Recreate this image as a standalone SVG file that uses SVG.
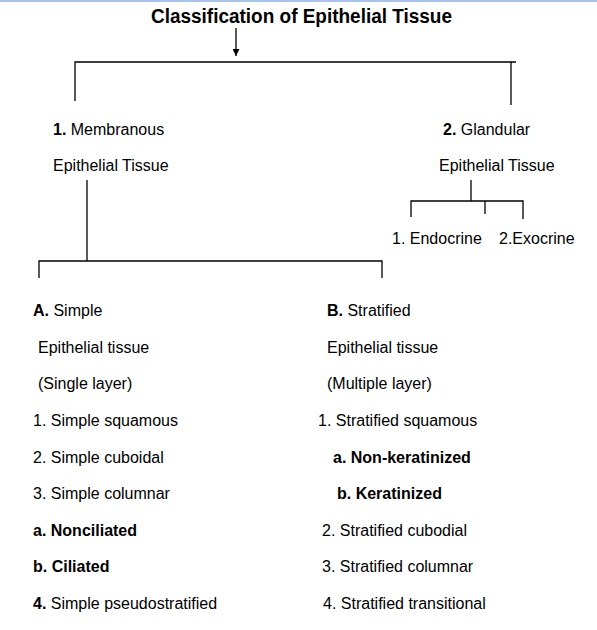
<svg xmlns="http://www.w3.org/2000/svg" width="597" height="630" viewBox="0 0 597 630">
<defs>
<marker id="ah" viewBox="0 0 10 10" refX="10" refY="5" markerWidth="7" markerHeight="7" markerUnits="userSpaceOnUse" orient="auto">
<path d="M0,0 L10,5 L0,10 z" fill="#000"/>
</marker>
<style>
text{font-family:"Liberation Sans",Arial,sans-serif;font-size:16px;fill:#000}
.b{font-weight:bold}
.t{font-size:20px;font-weight:bold}
.c{stroke:#000;stroke-width:1.3;fill:none}
</style>
</defs>
<rect x="0" y="0" width="597" height="630" fill="#fff"/>
<rect x="0" y="0" width="597" height="2" fill="#a9c4e8"/>
<g id="title"><text class="t" x="151" y="23" textLength="301" lengthAdjust="spacingAndGlyphs">Classification of Epithelial Tissue</text></g>
<g id="connectors">
<line class="c" x1="236" y1="28" x2="236" y2="56" marker-end="url(#ah)"/>
<polyline class="c" points="75,101 75,62 516,62"/>
<line class="c" x1="511" y1="62" x2="511" y2="105"/>
<line class="c" x1="87" y1="180" x2="87" y2="261"/>
<polyline class="c" points="39,278 39,261 382,261 382,278"/>
<line class="c" x1="471" y1="180" x2="471" y2="201"/>
<polyline class="c" points="411,217 411,201 523,201 523,219"/>
<line class="c" x1="485" y1="201" x2="485" y2="214"/>
</g>
<g id="membranous"><text x="53" y="135"><tspan class="b">1.</tspan> Membranous</text><text x="53" y="171">Epithelial Tissue</text></g>
<g id="glandular"><text x="443" y="135"><tspan class="b">2.</tspan> Glandular</text><text x="439" y="171">Epithelial Tissue</text></g>
<g id="endocrine"><text x="392" y="244">1. Endocrine</text></g>
<g id="exocrine"><text x="499" y="244">2.Exocrine</text></g>
<g id="simple">
<text x="33" y="316"><tspan class="b">A.</tspan> Simple</text>
<text x="38" y="353">Epithelial tissue</text>
<text x="38" y="389">(Single layer)</text>
<text x="33" y="426">1. Simple squamous</text>
<text x="33" y="463">2. Simple cuboidal</text>
<text x="33" y="499">3. Simple columnar</text>
<text class="b" x="33" y="536">a. Nonciliated</text>
<text class="b" x="33" y="572">b. Ciliated</text>
<text x="33" y="609"><tspan class="b">4.</tspan> Simple pseudostratified</text>
</g>
<g id="stratified">
<text x="327" y="316"><tspan class="b">B.</tspan>  Stratified</text>
<text x="327" y="353">Epithelial tissue</text>
<text x="327" y="389">(Multiple layer)</text>
<text x="318" y="426">1. Stratified squamous</text>
<text class="b" x="333" y="463">a. Non-keratinized</text>
<text class="b" x="337" y="499">b. Keratinized</text>
<text x="322" y="536">2. Stratified cubodial</text>
<text x="322" y="572">3. Stratified columnar</text>
<text x="323" y="609">4. Stratified transitional</text>
</g>
</svg>
